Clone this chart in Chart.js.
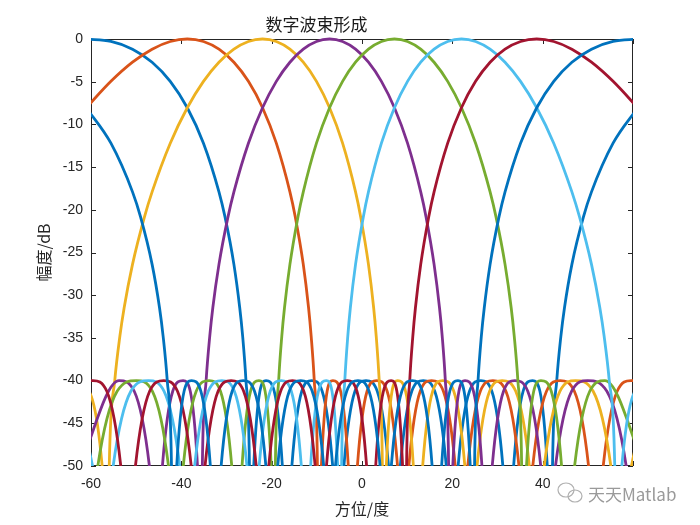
<!DOCTYPE html>
<html>
<head>
<meta charset="utf-8">
<script src="https://cdn.jsdelivr.net/npm/chart.js@4/dist/chart.umd.min.js"></script>
<style>
  html, body { margin: 0; padding: 0; background: #fff; }
  #wrap { width: 700px; height: 525px; }
</style>
</head>
<body>
<div id="wrap"><canvas id="chartCanvas" width="700" height="525"></canvas></div>
<script>
// angle (deg) / level (dB), one pair of arrays per beam
// -80 stands for a null that falls below the -50 dB floor
const beam1X = [-61.05,-55.59,-50.81,-46.47,-42.45,-38.68,-35.10,-31.67,-30.33,-28.36,-27.07,-26.42,-25.69,-24.92,-24.49,-23.97,-21.24,-17.63,-16.59,-15.53,-11.14,-6.49,-5.26,-4.01,0.89,5.88,7.18,8.48,13.56,18.66,19.97,21.28,26.31,31.19,32.38,33.57,37.76,41.02,41.65,42.18,43.12,44.03,44.83,46.47,49.03,50.81,55.59,61.05];
const beam1Y = [0,-0.29,-1.19,-2.72,-4.96,-8.05,-12.20,-17.90,-20.83,-26.39,-31.47,-34.81,-40,-50,-80,-50,-40,-50,-80,-50,-40,-50,-80,-50,-40,-50,-80,-50,-40,-50,-80,-50,-40,-50,-80,-50,-40,-50,-80,-50,-40,-34.81,-31.47,-26.39,-20.83,-17.90,-12.20,-8.05];

const beam2X = [-61.05,-55.59,-50.81,-46.47,-42.45,-38.68,-35.10,-31.67,-28.36,-25.15,-22.02,-18.97,-15.96,-14.77,-13.00,-11.83,-11.25,-10.57,-9.87,-9.47,-8.99,-6.45,-3.03,-2.04,-1.02,3.26,7.87,9.11,10.37,15.40,20.64,22.02,23.42,28.98,34.75,36.27,37.81,43.88,50.16,51.78,53.41,59.58,65.00,66.15];
const beam2Y = [-8.05,-4.96,-2.72,-1.19,-0.29,0,-0.29,-1.19,-2.72,-4.96,-8.05,-12.20,-17.90,-20.83,-26.39,-31.47,-34.81,-40,-50,-80,-50,-40,-50,-80,-50,-40,-50,-80,-50,-40,-50,-80,-50,-40,-50,-80,-50,-40,-50,-80,-50,-40,-50,-80];

const beam3X = [-62.59,-57.53,-56.66,-55.96,-54.74,-53.61,-52.66,-50.81,-48.16,-46.47,-42.45,-38.68,-35.10,-31.67,-28.36,-25.15,-22.02,-18.97,-15.96,-13.00,-10.08,-7.18,-4.30,-1.43,-0.29,1.43,2.58,3.15,3.81,4.51,4.90,5.38,7.91,11.37,12.38,13.43,17.87,22.77,24.10,25.47,31.03,37.05,38.68,40.35,47.27,55.09,57.31,59.66,70.60];
const beam3Y = [-40,-50,-80,-50,-40,-34.81,-31.47,-26.39,-20.83,-17.90,-12.20,-8.05,-4.96,-2.72,-1.19,-0.29,0,-0.29,-1.19,-2.72,-4.96,-8.05,-12.20,-17.90,-20.83,-26.39,-31.47,-34.81,-40,-50,-80,-50,-40,-50,-80,-50,-40,-50,-80,-50,-40,-50,-80,-50,-40,-50,-80,-50,-40];

const beam4X = [-62.50,-53.78,-47.07,-45.59,-44.19,-39.62,-36.42,-35.83,-35.35,-34.51,-33.71,-33.03,-31.67,-29.67,-28.36,-25.15,-22.02,-18.97,-15.96,-13.00,-10.08,-7.18,-4.30,-1.43,1.43,4.30,7.18,10.08,13.00,14.18,15.96,17.16,17.76,18.45,19.18,19.60,20.10,22.81,26.56,27.67,28.83,33.84,39.57,41.18,42.84,49.95,58.49,61.04];
const beam4Y = [-50,-40,-50,-80,-50,-40,-50,-80,-50,-40,-34.81,-31.47,-26.39,-20.83,-17.90,-12.20,-8.05,-4.96,-2.72,-1.19,-0.29,0,-0.29,-1.19,-2.72,-4.96,-8.05,-12.20,-17.90,-20.83,-26.39,-31.47,-34.81,-40,-50,-80,-50,-40,-50,-80,-50,-40,-50,-80,-50,-40,-50,-80];

const beam5X = [-61.04,-58.49,-49.95,-42.84,-41.18,-39.57,-33.84,-28.83,-27.67,-26.56,-22.81,-20.10,-19.60,-19.18,-18.45,-17.76,-17.16,-15.96,-14.18,-13.00,-10.08,-7.18,-4.30,-1.43,1.43,4.30,7.18,10.08,13.00,15.96,18.97,22.02,25.15,28.36,29.67,31.67,33.03,33.71,34.51,35.35,35.83,36.42,39.62,44.19,45.59,47.07,53.78,62.50];
const beam5Y = [-80,-50,-40,-50,-80,-50,-40,-50,-80,-50,-40,-50,-80,-50,-40,-34.81,-31.47,-26.39,-20.83,-17.90,-12.20,-8.05,-4.96,-2.72,-1.19,-0.29,0,-0.29,-1.19,-2.72,-4.96,-8.05,-12.20,-17.90,-20.83,-26.39,-31.47,-34.81,-40,-50,-80,-50,-40,-50,-80,-50,-40,-50];

const beam6X = [-70.60,-59.66,-57.31,-55.09,-47.27,-40.35,-38.68,-37.05,-31.03,-25.47,-24.10,-22.77,-17.87,-13.43,-12.38,-11.37,-7.91,-5.38,-4.90,-4.51,-3.81,-3.15,-2.58,-1.43,0.29,1.43,4.30,7.18,10.08,13.00,15.96,18.97,22.02,25.15,28.36,31.67,35.10,38.68,42.45,46.47,48.16,50.81,52.66,53.61,54.74,55.96,56.66,57.53,62.59];
const beam6Y = [-40,-50,-80,-50,-40,-50,-80,-50,-40,-50,-80,-50,-40,-50,-80,-50,-40,-50,-80,-50,-40,-34.81,-31.47,-26.39,-20.83,-17.90,-12.20,-8.05,-4.96,-2.72,-1.19,-0.29,0,-0.29,-1.19,-2.72,-4.96,-8.05,-12.20,-17.90,-20.83,-26.39,-31.47,-34.81,-40,-50,-80,-50,-40];

const beam7X = [-66.15,-65.00,-59.58,-53.41,-51.78,-50.16,-43.88,-37.81,-36.27,-34.75,-28.98,-23.42,-22.02,-20.64,-15.40,-10.37,-9.11,-7.87,-3.26,1.02,2.04,3.03,6.45,8.99,9.47,9.87,10.57,11.25,11.83,13.00,14.77,15.96,18.97,22.02,25.15,28.36,31.67,35.10,38.68,42.45,46.47,50.81,55.59,61.05];
const beam7Y = [-80,-50,-40,-50,-80,-50,-40,-50,-80,-50,-40,-50,-80,-50,-40,-50,-80,-50,-40,-50,-80,-50,-40,-50,-80,-50,-40,-34.81,-31.47,-26.39,-20.83,-17.90,-12.20,-8.05,-4.96,-2.72,-1.19,-0.29,0,-0.29,-1.19,-2.72,-4.96,-8.05];

const beam8X = [-61.05,-55.59,-50.81,-49.03,-46.47,-44.83,-44.03,-43.12,-42.18,-41.65,-41.02,-37.76,-33.57,-32.38,-31.19,-26.31,-21.28,-19.97,-18.66,-13.56,-8.48,-7.18,-5.88,-0.89,4.01,5.26,6.49,11.14,15.53,16.59,17.63,21.24,23.97,24.49,24.92,25.69,26.42,27.07,28.36,30.33,31.67,35.10,38.68,42.45,46.47,50.81,55.59,61.05];
const beam8Y = [-8.05,-12.20,-17.90,-20.83,-26.39,-31.47,-34.81,-40,-50,-80,-50,-40,-50,-80,-50,-40,-50,-80,-50,-40,-50,-80,-50,-40,-50,-80,-50,-40,-50,-80,-50,-40,-50,-80,-50,-40,-34.81,-31.47,-26.39,-20.83,-17.90,-12.20,-8.05,-4.96,-2.72,-1.19,-0.29,0];

const beamColors = ['#0072BD','#D95319','#EDB120','#7E2F8E','#77AC30','#4DBEEE','#A2142F','#0072BD'];
const xTicks = [-60,-40,-20,0,20,40,60];
const yTicks = [0,-5,-10,-15,-20,-25,-30,-35,-40,-45,-50];

const titleText = '数字波束形成';
const xTitle = '方位/度';
const yTitle = '幅度/dB';
const markText = '天天Matlab';

const cjk = '"Noto Sans CJK SC", "Noto Sans", sans-serif';
const latin = '"Liberation Sans", Arial, sans-serif';
const axisColor = '#262626';

const beams = [
  [beam1X, beam1Y], [beam2X, beam2Y], [beam3X, beam3Y], [beam4X, beam4Y],
  [beam5X, beam5Y], [beam6X, beam6Y], [beam7X, beam7Y], [beam8X, beam8Y]
];

const datasets = beams.map((b, i) => ({
  data: b[0].map((x, k) => ({ x: x, y: b[1][k] })),
  borderColor: beamColors[i],
  borderWidth: 2.8,
  pointRadius: 0,
  fill: false,
  cubicInterpolationMode: 'monotone',
  clip: { left: 0, right: 0, top: 3, bottom: 0 },
  order: beams.length - i
}));

// box and inward ticks on all four sides, drawn under the lines
const axesBox = {
  id: 'axesBox',
  beforeDatasetsDraw(chart) {
    const { ctx, chartArea: a, scales: { x, y } } = chart;
    ctx.save();
    ctx.strokeStyle = axisColor;
    ctx.lineWidth = 1;
    ctx.beginPath();
    xTicks.forEach(v => {
      const px = Math.round(x.getPixelForValue(v)) + 0.5;
      ctx.moveTo(px, a.bottom); ctx.lineTo(px, a.bottom - 5);
      ctx.moveTo(px, a.top); ctx.lineTo(px, a.top + 5);
    });
    yTicks.forEach(v => {
      const py = Math.round(y.getPixelForValue(v)) + 0.5;
      ctx.moveTo(a.left, py); ctx.lineTo(a.left + 5, py);
      ctx.moveTo(a.right, py); ctx.lineTo(a.right - 5, py);
    });
    ctx.stroke();
    ctx.strokeRect(Math.round(a.left) + 0.5, Math.round(a.top) + 0.5,
      Math.round(a.right - a.left) - 1, Math.round(a.bottom - a.top) - 1);
    ctx.restore();
  }
};

// watermark in the lower right corner
const watermark = {
  id: 'watermark',
  afterDraw(chart) {
    const ctx = chart.ctx;
    ctx.save();
    ctx.fillStyle = '#ffffff';
    ctx.fillRect(553, 476, 140, 32);
    ctx.strokeStyle = '#b0b0b0';
    ctx.lineWidth = 1.2;
    ctx.beginPath();
    ctx.ellipse(566, 490, 8, 7, 0, 0, Math.PI * 2);
    ctx.stroke();
    ctx.beginPath();
    ctx.ellipse(575, 496, 7, 6, 0, 0, Math.PI * 2);
    ctx.stroke();
    ctx.fillStyle = '#9a9a9a';
    ctx.font = '17px ' + cjk;
    ctx.textBaseline = 'middle';
    ctx.textAlign = 'left';
    ctx.fillText(markText, 588, 495);
    ctx.restore();
  }
};

new Chart(document.getElementById('chartCanvas'), {
  type: 'line',
  data: { datasets: datasets },
  options: {
    responsive: false,
    animation: false,
    events: [],
    layout: { padding: { left: 0, right: 67, top: 0, bottom: 0 } },
    plugins: {
      legend: { display: false },
      tooltip: { enabled: false },
      title: {
        display: true,
        text: titleText,
        color: '#1a1a1a',
        font: { family: cjk, size: 17, weight: 'normal' },
        padding: { top: 14, bottom: 4.6 }
      }
    },
    scales: {
      x: {
        type: 'linear',
        min: -60,
        max: 60,
        afterBuildTicks: s => { s.ticks = xTicks.map(v => ({ value: v })); },
        afterFit: s => { s.height = 59; },
        grid: { display: false, drawTicks: false },
        border: { display: false },
        ticks: { color: axisColor, font: { family: latin, size: 14 }, padding: 10, maxRotation: 0 },
        title: { display: true, text: xTitle, color: axisColor, font: { family: cjk, size: 16 }, padding: { top: 0, bottom: 6.4 } }
      },
      y: {
        type: 'linear',
        min: -50,
        max: 0,
        afterBuildTicks: s => { s.ticks = yTicks.map(v => ({ value: v })); },
        afterFit: s => { s.width = 91; },
        grid: { display: false, drawTicks: false },
        border: { display: false },
        ticks: { color: axisColor, font: { family: latin, size: 14 }, padding: 8 },
        title: { display: true, text: yTitle, color: axisColor, font: { family: cjk, size: 16 }, padding: { top: 34.4, bottom: 0 } }
      }
    }
  },
  plugins: [axesBox, watermark]
});
</script>
</body>
</html>
